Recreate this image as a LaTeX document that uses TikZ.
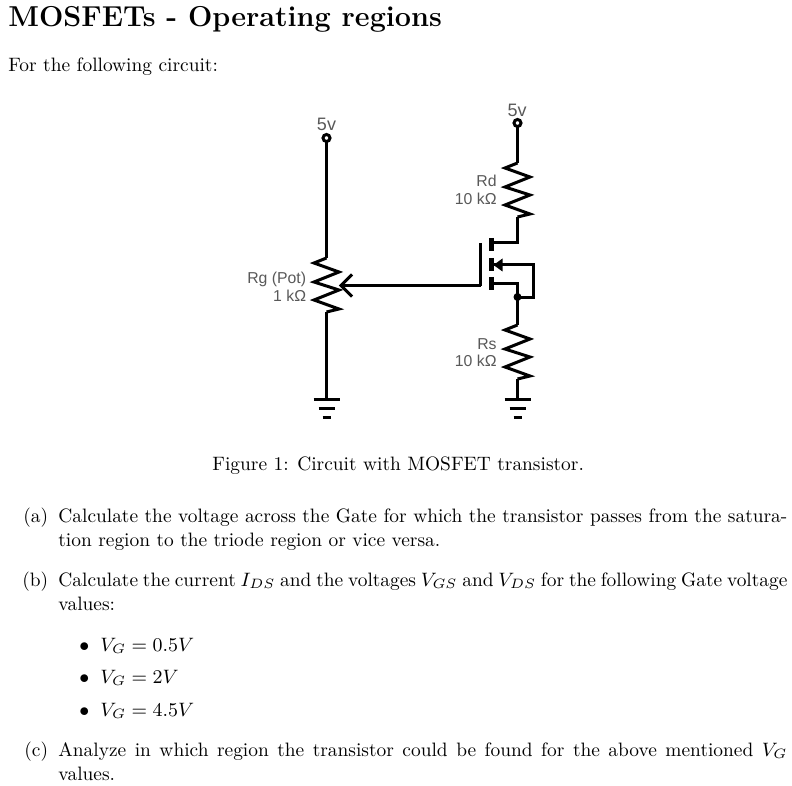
\documentclass[tikz,border=0pt]{standalone}
\usepackage{fix-cm}
\usepackage{amsmath}
\usepackage{amssymb}
\usepackage{fontspec}
\newfontfamily\circuitfont{Liberation Sans}
\tikzset{
  wire/.style={black,line width=1.5pt},
  body/.style={anchor=base west,inner sep=0pt,font=\fontsize{9.7}{12}\selectfont},
  part/.style={anchor=base east,inner sep=0pt,text=black!65,font=\circuitfont\fontsize{7.9}{9}\selectfont},
  supply/.style={anchor=base,inner sep=0pt,text=black!65,font=\circuitfont\fontsize{9}{10}\selectfont},
}
\newcommand{\resistor}[2]{\draw[wire,line join=miter] (#1) -- ++(-12.5,5) -- ++(25,9) -- ++(-25,10) -- ++(25,8) -- ++(-25,10) -- ++(25,9) -- ++(-12.5,3) -- (#2);}
\newcommand{\earth}[1]{
  \draw[wire] ([shift={(-13,0)}]#1) -- ([shift={(13,0)}]#1);
  \draw[wire] ([shift={(-8,9)}]#1) -- ([shift={(8,9)}]#1);
  \draw[wire] ([shift={(-4,18)}]#1) -- ([shift={(4,18)}]#1);
}
\begin{document}
\begin{tikzpicture}[x=0.5pt,y=-0.5pt]
\useasboundingbox (0,0) rectangle (792,786);
\node[body,font=\fontsize{14.4}{17}\selectfont\bfseries] (title) at (8,27) {MOSFETs - Operating regions};
\node[body] (intro) at (8,72) {For the following circuit:};
% left branch
\coordinate (vg) at (326.5,138);
\coordinate (rgtop) at (326.5,258);
\coordinate (rgbot) at (326.5,312);
\coordinate (gndg) at (326.5,399);
\coordinate (wiper) at (341,285.5);
\coordinate (gate) at (480.5,285.5);
\coordinate (gatetop) at (480.5,243);
% right branch
\coordinate (vd) at (517.5,123);
\coordinate (rdtop) at (517.5,163);
\coordinate (rdbot) at (517.5,217);
\coordinate (dcorner) at (517.5,243);
\coordinate (drain) at (492,243);
\coordinate (bulk) at (492,265);
\coordinate (bcorner) at (533,265);
\coordinate (bjoin) at (533,297);
\coordinate (source) at (492,283.5);
\coordinate (scorner) at (517.5,283.5);
\coordinate (sjoin) at (517.5,297);
\coordinate (rstop) at (517.5,325);
\coordinate (rsbot) at (517.5,379);
\coordinate (gnds) at (517.5,399);
\draw[wire] (vg) -- (rgtop);
\resistor{rgtop}{rgbot}
\draw[wire] (rgbot) -- (gndg);
\earth{gndg}
\draw[wire] (gate) -- (wiper);
\draw[wire] ([shift={(11,-11)}]wiper) -- (wiper) -- ([shift={(11,11)}]wiper);
\draw[wire] (gatetop) -- (gate);
\draw[wire] (vd) -- (rdtop);
\resistor{rdtop}{rdbot}
\draw[wire] (rdbot) -- (dcorner) -- (drain);
\draw[line width=2.5pt] (491.5,238) -- (491.5,251);
\draw[line width=2.5pt] (491.5,258) -- (491.5,271);
\draw[line width=2.5pt] (491.5,277) -- (491.5,290);
\draw[wire] (bulk) -- (bcorner) -- (bjoin) -- (sjoin);
\fill (bulk) ++(1.5,0) -- ++(9,-6.5) -- ++(0,13) -- cycle;
\draw[wire] (source) -- (scorner) -- (rstop);
\fill (sjoin) circle (4);
\resistor{rstop}{rsbot}
\draw[wire] (rsbot) -- (gnds);
\earth{gnds}
\draw[wire,fill=white] (vg) circle (3.5);
\draw[wire,fill=white] (vd) circle (3.5);
\node[supply] (vglabel) at (326.5,131) {5v};
\node[supply] (vdlabel) at (517,116.5) {5v};
\node[part] (rgname) at (306.5,284) {Rg (Pot)};
\node[part] (rgvalue) at (306.5,301) {1 kΩ};
\node[part] (rdname) at (497,186.5) {Rd};
\node[part] (rdvalue) at (497,205) {10 kΩ};
\node[part] (rsname) at (497,349) {Rs};
\node[part] (rsvalue) at (497,366.5) {10 kΩ};
\node[body] (caption) at (212,470) {Figure 1: Circuit with MOSFET transistor.};
\node[body] (alabel) at (23,522) {(a)};
\node[body] (aone) at (58,522) {\makebox[364.5pt][s]{Calculate the voltage across the Gate for which the transistor passes from the satura-}};
\node[body] (atwo) at (58,546) {tion region to the triode region or vice versa.};
\node[body] (blabel) at (22,586) {(b)};
\node[body] (bone) at (58,586) {\makebox[364.5pt][s]{Calculate the current $I_{DS}$ and the voltages $V_{GS}$ and $V_{DS}$ for the following Gate voltage}};
\node[body] (btwo) at (58,610) {values:};
\node[body] (bulletone) at (79,651) {$\bullet$};
\node[body] (vone) at (100,651) {$V_G=0.5V$};
\node[body] (bullettwo) at (79,683) {$\bullet$};
\node[body] (vtwo) at (100,683) {$V_G=2V$};
\node[body] (bulletthree) at (79,716) {$\bullet$};
\node[body] (vthree) at (100,716) {$V_G=4.5V$};
\node[body] (clabel) at (24,756) {(c)};
\node[body] (cone) at (58,756) {\makebox[364.5pt][s]{Analyze in which region the transistor could be found for the above mentioned $V_G$}};
\node[body] (ctwo) at (58,780) {values.};
\end{tikzpicture}
\end{document}
